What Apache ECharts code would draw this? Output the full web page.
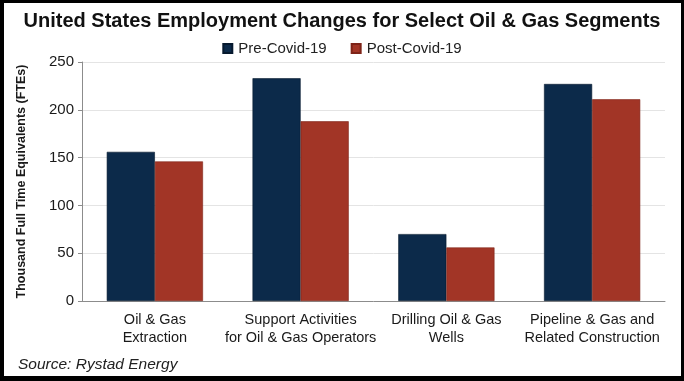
<!DOCTYPE html>
<html>
<head>
<meta charset="utf-8">
<script src="https://cdn.jsdelivr.net/npm/echarts@6/dist/echarts.min.js"></script>
<style>
html,body{margin:0;padding:0;background:#fff;}
#c{width:684px;height:381px;}
</style>
</head>
<body>
<div id="c"></div>
<script>
const categories = ["Oil & Gas\nExtraction", "Support Activities\nfor Oil & Gas Operators", "Drilling Oil & Gas\nWells", "Pipeline & Gas and\nRelated Construction"];
const preCovid = [156, 233, 70, 227];
const postCovid = [146, 188, 56, 211];
const seriesNames = ["Pre-Covid-19", "Post-Covid-19"];
const titleText = "United States Employment Changes for Select Oil & Gas Segments";
const yAxisName = "Thousand Full Time Equivalents (FTEs)";
const sourceText = "Source: Rystad Energy";

const chart = echarts.init(document.getElementById('c'), null, {renderer: 'canvas'});
const font = "'Liberation Sans', Arial, sans-serif";
chart.setOption({
  backgroundColor: '#ffffff',
  animation: false,
  title: {
    text: titleText,
    left: 'center',
    top: 6,
    textStyle: {fontFamily: font, fontSize: 20, fontWeight: 'bold', color: '#111'}
  },
  legend: {
    data: seriesNames,
    top: 36,
    left: 'center',
    itemWidth: 9,
    itemHeight: 9,
    itemGap: 24,
    icon: 'rect',
    textStyle: {fontFamily: font, fontSize: 15, color: '#222', padding: [0,0,0,1]}
  },
  grid: {left: 82, right: 19, top: 62, bottom: 80, containLabel: false},
  xAxis: {
    type: 'category',
    data: categories,
    axisLine: {lineStyle: {color: '#8c8c8c', width: 1}},
    axisTick: {show: false},
    axisLabel: {fontFamily: font, fontSize: 14.5, color: '#1a1a1a', margin: 10, lineHeight: 18, interval: 0}
  },
  yAxis: {
    type: 'value',
    min: 0, max: 250, interval: 50,
    name: yAxisName,
    nameLocation: 'middle',
    nameGap: 54,
    nameTextStyle: {fontFamily: font, fontSize: 12.5, fontWeight: 'bold', color: '#1a1a1a'},
    axisLine: {show: true, lineStyle: {color: '#8c8c8c', width: 1}},
    axisTick: {show: true, length: 4, lineStyle: {color: '#8c8c8c'}},
    axisLabel: {fontFamily: font, fontSize: 15, color: '#1a1a1a', margin: 8},
    splitLine: {lineStyle: {color: '#e4e4e4', width: 1}}
  },
  series: [
    {name: seriesNames[0], type: 'bar', data: preCovid, barGap: '0%', barCategoryGap: '34%',
     itemStyle: {color: '#0c2a4a', borderColor: '#06192e', borderWidth: 0.6}},
    {name: seriesNames[1], type: 'bar', data: postCovid, barGap: '0%', barCategoryGap: '34%',
     itemStyle: {color: '#a23526', borderColor: '#7e2318', borderWidth: 0.6}}
  ],
  graphic: [
    {type: 'text', left: 18, top: 357, style: {text: sourceText, font: "italic 15.5px 'Liberation Sans', Arial, sans-serif", fill: '#222'}},
    {type: 'rect', shape: {x: 0, y: 0, width: 684, height: 3}, style: {fill: '#000'}},
    {type: 'rect', shape: {x: 0, y: 376, width: 684, height: 5}, style: {fill: '#000'}},
    {type: 'rect', shape: {x: 0, y: 0, width: 4, height: 381}, style: {fill: '#000'}},
    {type: 'rect', shape: {x: 681, y: 0, width: 3, height: 381}, style: {fill: '#000'}}
  ]
});
</script>
</body>
</html>
